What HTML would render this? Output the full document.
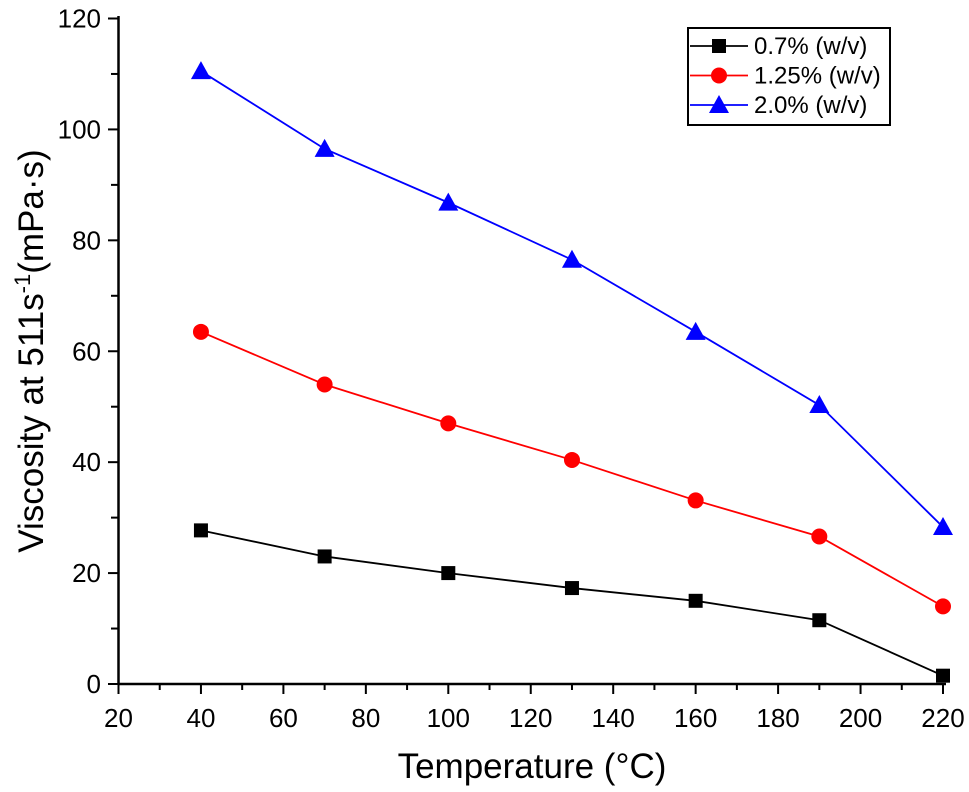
<!DOCTYPE html>
<html><head><meta charset="utf-8"><style>
body{margin:0;background:#fff;}
svg text{font-family:"Liberation Sans",Arial,sans-serif;}
</style></head><body>
<svg id="chart" width="969" height="787" xmlns="http://www.w3.org/2000/svg"></svg>
<script>
const temps=[40,70,100,130,160,190,220];
const s07=[27.7,23,20,17.3,15,11.5,1.5];
const s125=[63.5,54,47,40.4,33.1,26.6,14];
const s20=[110.5,96.5,86.8,76.5,63.5,50.3,28.3];
const xTicks=[20,40,60,80,100,120,140,160,180,200,220];
const yTicks=[0,20,40,60,80,100,120];
const NS="http://www.w3.org/2000/svg";
const svg=document.getElementById('chart');
const X=v=>118.5+(v-20)*(943-118.5)/200;
const Y=v=>684-v*(684-18.5)/120;
function el(t,a,p){const e=document.createElementNS(NS,t);for(const k in a)e.setAttribute(k,a[k]);(p||svg).appendChild(e);return e;}
let ax=el('line',{x1:118.5,y1:684,x2:946,y2:684,stroke:'#000','stroke-width':2.5});


let ay=el('line',{x1:118.5,y1:16,x2:118.5,y2:685,stroke:'#000','stroke-width':2.5});


xTicks.forEach((v,i)=>{
  el('line',{x1:X(v),y1:684,x2:X(v),y2:694,stroke:'#000','stroke-width':2});
  if(i<xTicks.length-1) el('line',{x1:X(v+10),y1:684,x2:X(v+10),y2:690,stroke:'#000','stroke-width':2});
  const t=el('text',{x:X(v),y:727,'font-size':26,'text-anchor':'middle'});t.textContent=v;
  
  
});
yTicks.forEach((v,i)=>{
  el('line',{x1:108,y1:Y(v),x2:118.5,y2:Y(v),stroke:'#000','stroke-width':2});
  if(i<yTicks.length-1) el('line',{x1:111,y1:Y(v+10),x2:118.5,y2:Y(v+10),stroke:'#000','stroke-width':2});
  const t=el('text',{x:101,y:Y(v)+9,'font-size':26,'text-anchor':'end'});t.textContent=v;
  
  
});
const xt=el('text',{x:532,y:778,'font-size':35,'text-anchor':'middle'});xt.textContent='Temperature (°C)';


const yt=el('text',{transform:'translate(43,351) rotate(-90)','font-size':35,'text-anchor':'middle'});
yt.innerHTML='Viscosity at 511s<tspan dy="-13" font-size="22">-1</tspan><tspan dy="13">(mPa·s)</tspan>';


function marker(shape,x,y,c,g){
  if(shape==='sq') return el('rect',{x:x-7,y:y-7,width:14,height:14,fill:c},g);
  if(shape==='ci') return el('circle',{cx:x,cy:y,r:8,fill:c},g);
  return el('polygon',{points:`${x},${y-10} ${x-10},${y+8} ${x+10},${y+8}`,fill:c},g);
}
const series=[[s07,'#000','sq','series-0-7pct'],[s125,'#f00','ci','series-1-25pct'],[s20,'#00f','tr','series-2-0pct']];
series.forEach(([d,c,sh,nm])=>{
  const g=el('g',{});
  
  
  el('polyline',{points:d.map((v,i)=>X(temps[i])+','+Y(v)).join(' '),fill:'none',stroke:c,'stroke-width':1.8},g);
  d.forEach((v,i)=>{const m=marker(sh,X(temps[i]),Y(v),c,g);
    
    });
});
const lg=el('g',{});


el('rect',{x:688,y:28,width:202,height:97,fill:'#fff',stroke:'#000','stroke-width':2},lg);
const labels=['0.7% (w/v)','1.25% (w/v)','2.0% (w/v)'];
series.forEach(([d,c,sh],i)=>{
  const y=46+i*29.5;
  el('line',{x1:690,y1:y,x2:748,y2:y,stroke:c,'stroke-width':1.8},lg);
  marker(sh,719,y,c,lg);
  const t=el('text',{x:754,y:y+8,'font-size':24},lg);t.textContent=labels[i];
  
  
});
</script>
</body></html>
